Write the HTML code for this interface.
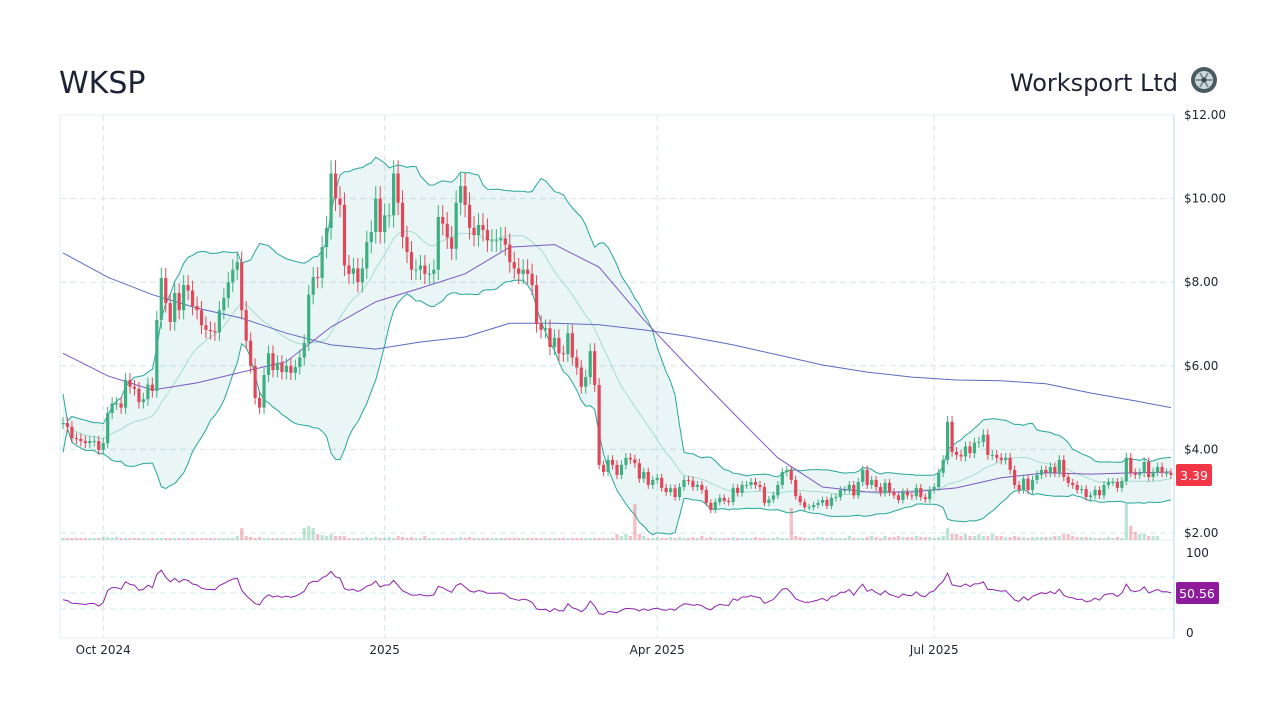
<!DOCTYPE html>
<html><head><meta charset="utf-8">
<style>
html,body{margin:0;padding:0;background:#fff;width:1280px;height:720px;overflow:hidden;font-family:"DejaVu Sans","Liberation Sans",sans-serif;}
#title{position:absolute;left:59px;top:66px;font-size:30px;color:#1e2235;}
#company{position:absolute;right:102px;top:69px;font-size:24px;color:#1e2235;}
svg{position:absolute;left:0;top:0;font-family:"DejaVu Sans","Liberation Sans",sans-serif;}
</style></head><body>
<div id="title">WKSP</div>
<div id="company">Worksport Ltd</div>
<svg id="chart" width="1280" height="720"></svg>
<script>
const closes=[4.63,4.54,4.27,4.25,4.2,4.15,4.2,4.2,3.99,4.15,4.87,5.1,5.1,5.0,5.66,5.5,5.45,5.13,5.2,5.55,5.4,7.1,8.1,7.5,7.05,7.74,7.33,7.93,7.8,7.43,7.33,6.97,6.86,6.83,6.8,7.33,7.62,8.0,8.3,8.48,7.33,
6.6,6.0,5.23,5.0,5.78,6.3,5.9,6.07,5.85,6.0,5.83,5.97,6.2,6.55,7.7,8.12,8.1,8.84,9.3,10.6,10.0,9.85,8.4,8.2,8.33,8.0,8.33,8.96,9.2,10.0,9.2,9.6,9.6,10.6,9.9,9.08,8.72,8.3,8.3,8.4,8.2,8.2,8.3,
9.56,9.4,9.07,8.8,9.9,10.3,9.85,9.3,9.13,9.37,9.25,9.0,9.0,9.0,9.05,8.9,8.48,8.33,8.2,8.3,8.2,7.93,7.0,6.86,6.9,6.45,6.67,6.3,6.28,6.78,6.2,5.96,5.5,5.73,6.35,5.54,3.63,3.46,3.75,3.63,3.39,
3.63,3.8,3.76,3.67,3.3,3.46,3.15,3.27,3.32,3.08,2.98,3.07,2.86,3.1,3.27,3.25,3.1,3.15,3.03,2.72,2.55,2.74,2.84,2.77,2.74,3.08,2.96,3.15,3.15,3.22,3.15,3.1,2.72,2.8,2.9,3.15,3.46,3.5,3.27,2.88,2.74,2.62,2.62,2.67,2.72,2.79,2.65,2.84,2.86,3.03,3.03,3.15,2.9,3.22,3.51,3.15,3.27,3.1,2.96,3.2,2.98,2.9,2.79,2.98,2.9,2.88,
3.08,2.86,2.81,3.03,3.1,3.44,3.75,4.66,3.94,3.87,3.83,4.07,3.91,4.16,4.18,4.35,3.87,3.87,3.8,3.75,3.8,3.51,3.15,3.03,3.3,3.03,3.27,3.39,3.51,3.44,3.58,3.44,3.75,3.34,3.2,3.15,3.03,3.05,2.86,2.9,3.03,2.9,3.15,3.22,3.22,3.08,3.24,3.8,3.44,3.39,3.44,3.7,3.34,3.46,3.58,3.44,3.44,3.39];
const volumes=[1,1,1,1,1,1,1,1,1,1.5,1.5,1,1.5,1,1,1,1,1,1,1,1,1,1,1,1,1,1,1,1,1,1,1,1,1,1,1,1,1,1,2,6,2,1.5,1,1.5,1,1,1,1,1,1,1,1,1,6,7,6,3,2.5,2,3,2,2,2,1,1,1,1,1.5,1,1.5,1,1,1.5,1,2,1.5,1,1.5,1,1,2,1,1,1,1,1,1,
1,1.5,1,1.5,1,1,1,1,1,1,1,1,1,1,1,1,1,1,1,1,1,1,1,1,1,1,1,1,1,1,1,1,1,1,1,1,3,2,3,2,18,3,2,1,1,1.5,1,1,1.5,1,1.5,1,1,1.5,1,2,1,1.5,1,1,1,1,1.5,1,1,1,1,1.5,1,1,1,1,1.5,1,1,16,2,1.5,1,1,1,1.5,1.5,1,1.5,1,1,1,2,1,1,1,1.5,2,1.5,1,2,1.5,1.5,2,1.5,1.5,1.5,2,1.5,
1.5,1.5,1,1.5,2,6,3,3,2,3,2,2,3,2,2,3,2,2,1.5,1.5,2,1.5,1.5,1,1.5,1.5,1.5,1.5,1.5,2,2,3,3,2,1.5,1.5,1.5,1.5,1,1,1,1.5,1,1.5,1,18,7,4,3,3,2,2,2];
const sma200=[8.7,8.12,7.7,7.38,7.14,6.78,6.5,6.4,6.57,6.69,7.02,7.02,6.98,6.86,6.7,6.5,6.26,6.02,5.85,5.73,5.66,5.64,5.57,5.35,5.16,5.0];
const sma50=[6.3,5.76,5.42,5.59,5.85,6.1,6.93,7.53,7.86,8.2,8.84,8.9,8.36,7.1,5.97,4.87,3.8,3.1,2.98,2.98,3.08,3.32,3.44,3.41,3.44,3.46];
const priceTicks=[2,4,6,8,10,12];
const rsiTicks=[0,100];
const timeLabels=["Oct 2024","2025","Apr 2025","Jul 2025"];
const timeIdx=[9,72,133,195];

const NS="http://www.w3.org/2000/svg";
const svg=document.getElementById('chart');
const N=closes.length, X0=63, X1=1171;
const xs=i=>X0+i*(X1-X0)/(N-1);
const yP=p=>533-(p-2)*41.8;
const yR=r=>633-r*0.8;
function el(t,a,p){const e=document.createElementNS(NS,t);for(const k in a)e.setAttribute(k,a[k]);(p||svg).appendChild(e);return e;}
function txt(s,a){const e=el('text',a);e.textContent=s;return e;}

priceTicks.forEach(p=>{
 const l=el('line',{x1:60,x2:1174,y1:yP(p),y2:yP(p),stroke:'#d6e4ea','stroke-dasharray':'6,4'});
 
 const t=txt('$'+p.toFixed(2),{x:1184,y:yP(p)+4,'font-size':12,fill:'#1e2235'});
 
});
[70,50,30].forEach(r=>{const l=el('line',{x1:60,x2:1174,y1:yR(r),y2:yR(r),stroke:'#c8ecf3','stroke-dasharray':'6,4'});
 });
rsiTicks.forEach(r=>{const t=txt(String(r),{x:1186,y:yR(r)+4,'font-size':12,fill:'#1e2235'});
 });
timeIdx.forEach((k,j)=>{const x=xs(k);
 const l=el('line',{x1:x,x2:x,y1:115,y2:638,stroke:'#d6e4ea','stroke-dasharray':'6,4'});
 
 const t=txt(timeLabels[j],{x:x,y:654,'font-size':12,fill:'#1e2235','text-anchor':'middle'});
 });
el('line',{x1:60,x2:60,y1:115,y2:638,stroke:'#e3ecf0'});
el('line',{x1:60,x2:1174,y1:115,y2:115,stroke:'#e3ecf0'});
el('line',{x1:60,x2:1174,y1:540,y2:540,stroke:'#e3ecf0'});
el('line',{x1:60,x2:1174,y1:638,y2:638,stroke:'#e3ecf0'});
el('line',{x1:1174,x2:1174,y1:115,y2:638,stroke:'#b9dbe3'});

const mid=[],up=[],lo=[];
for(let i=0;i<N;i++){const s=closes.slice(Math.max(0,i-19),i+1);const m=s.reduce((a,b)=>a+b,0)/s.length;
 const sd=Math.sqrt(s.reduce((a,b)=>a+(b-m)*(b-m),0)/s.length)||0.35;mid.push(m);up.push(m+2*sd);lo.push(m-2*sd);}
const pts=a=>a.map((v,i)=>xs(i).toFixed(1)+','+yP(v).toFixed(1));
const band=el('polygon',{points:pts(up).concat(pts(lo).reverse()).join(' '),fill:'rgba(38,166,154,0.1)'});

const bu=el('polyline',{points:pts(up).join(' '),fill:'none',stroke:'#26a69a','stroke-width':1});

const bl=el('polyline',{points:pts(lo).join(' '),fill:'none',stroke:'#26a69a','stroke-width':1});

const bm=el('polyline',{points:pts(mid).join(' '),fill:'none',stroke:'#a6dcd2','stroke-width':1});


const sIdx=k=>Math.min(k*10,N-1);
const s2=el('polyline',{points:sma200.map((v,k)=>xs(sIdx(k)).toFixed(1)+','+yP(v).toFixed(1)).join(' '),fill:'none',stroke:'#5c6bc0','stroke-width':1});

const s5=el('polyline',{points:sma50.map((v,k)=>xs(sIdx(k)).toFixed(1)+','+yP(v).toFixed(1)).join(' '),fill:'none',stroke:'#7e57c2','stroke-width':1});


const UP='#3fae80',DN='#e0485a';
for(let i=0;i<N&&i<volumes.length;i++){const o=i?closes[i-1]:closes[i];const c=closes[i];const h=volumes[i]*2;
 const r=el('rect',{x:xs(i)-1.6,y:540-h,width:3.2,height:h,fill:c>=o?UP:DN,opacity:0.35});
 }

for(let i=0;i<N;i++){const o=i?closes[i-1]:closes[i];const c=closes[i];const col=c>=o?UP:DN;
 const hi=Math.max(o,c)*1.03,lw=Math.min(o,c)*0.97;const x=xs(i);
 const w=el('line',{x1:x,x2:x,y1:yP(hi),y2:yP(lw),stroke:col,'stroke-width':1});
 
 const top=yP(Math.max(o,c)),bh=Math.max(1,yP(Math.min(o,c))-top);
 const b=el('rect',{x:x-1.6,y:top,width:3.2,height:bh,fill:col});
 }

const rsi=[];let ag=0.1,al=0.14;
for(let i=0;i<N;i++){if(i>0){const d=closes[i]-closes[i-1];ag=(ag*13+Math.max(d,0))/14;al=(al*13+Math.max(-d,0))/14;}
 rsi.push(al===0?100:100-100/(1+ag/al));}
const rl=el('polyline',{points:rsi.map((v,i)=>xs(i).toFixed(1)+','+yR(v).toFixed(1)).join(' '),fill:'none',stroke:'#8e24aa','stroke-width':1});


const pl=el('rect',{x:1176,y:464,width:36,height:22,rx:2,fill:'#f23645'});

const plt=txt(closes[N-1].toFixed(2),{x:1194,y:480,'font-size':12.5,fill:'#fff','text-anchor':'middle'});

const rb=el('rect',{x:1176,y:582,width:43,height:22,rx:2,fill:'#8e1a9c'});

const rbt=txt('50.56',{x:1197,y:598,'font-size':12.5,fill:'#fff','text-anchor':'middle'});


const g=el('g',{});

el('circle',{cx:1204,cy:80,r:13,fill:'#4a5a63'},g);
el('circle',{cx:1204,cy:80,r:9,fill:'#cfd8dc'},g);
for(let a=0;a<6;a++){const t=a*Math.PI/3;el('line',{x1:1204,y1:80,x2:1204+8*Math.cos(t),y2:80+8*Math.sin(t),stroke:'#7c8c94','stroke-width':2},g);}
el('circle',{cx:1204,cy:80,r:2.5,fill:'#37474f'},g);
</script>
</body></html>
